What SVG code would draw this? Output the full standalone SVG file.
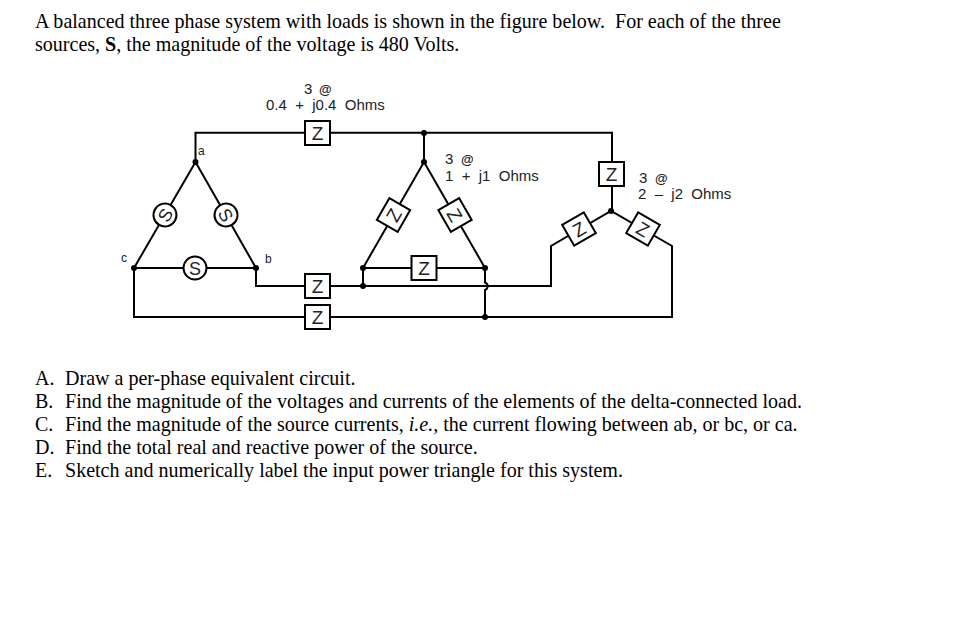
<svg xmlns="http://www.w3.org/2000/svg" width="966" height="642" viewBox="0 0 966 642">
<style>
.t{font-family:"Liberation Serif",serif;font-size:20.05px;fill:#000;white-space:pre}
.d{font-family:"Liberation Sans",sans-serif;font-size:15px;fill:#222;white-space:pre}
.at{font-family:"Liberation Sans",sans-serif;font-size:13px;font-weight:bold;fill:#222}
.l{font-family:"Liberation Sans",sans-serif;font-size:12px;fill:#222}
.z{font-family:"Liberation Sans",sans-serif;font-size:19px;fill:#222;text-anchor:middle}
.w{fill:none;stroke:#000;stroke-width:2}
.b{fill:#fff;stroke:#000;stroke-width:2}
</style>
<defs>
<g id="zb"><rect class="b" x="-12.5" y="-12" width="25" height="24"/><text class="z" y="7">Z</text></g>
<g id="sc"><circle class="b" r="11.5"/><text class="z" y="6.500" style="font-size:18px">S</text></g>
</defs>
<rect width="966" height="642" fill="#fff"/>
<g id="text">
<text class="t" x="35" y="28">A balanced three phase system with loads is shown in the figure below.  For each of the three</text>
<text class="t" x="35" y="51">sources, <tspan font-weight="bold">S</tspan>, the magnitude of the voltage is 480 Volts.</text>
<text class="t" y="385"><tspan x="35">A.</tspan><tspan x="65">Draw a per-phase equivalent circuit.</tspan></text>
<text class="t" y="408"><tspan x="35">B.</tspan><tspan x="65">Find the magnitude of the voltages and currents of the elements of the delta-connected load.</tspan></text>
<text class="t" y="431"><tspan x="35">C.</tspan><tspan x="65">Find the magnitude of the source currents, <tspan font-style="italic">i.e.</tspan>, the current flowing between ab, or bc, or ca.</tspan></text>
<text class="t" y="454"><tspan x="35">D.</tspan><tspan x="65">Find the total real and reactive power of the source.</tspan></text>
<text class="t" y="477"><tspan x="35">E.</tspan><tspan x="65">Sketch and numerically label the input power triangle for this system.</tspan></text>
</g>
<g id="connectors">
<path class="w" d="M195.500 162V132.700H612V211"/>
<path class="w" d="M195.500 162L134 268H256L195.500 162"/>
<path class="w" d="M256 268V286H551V246L611 211L672 246V317H134V268"/>
<path class="w" d="M424 133V162L363 268H485L424 162"/>
<path class="w" d="M363 268V286"/>
<path class="w" d="M485 268V282.500A4 4 0 0 1 485 290V317"/>
<g fill="#000">
<circle cx="195.500" cy="162" r="3"/><circle cx="134" cy="268" r="3"/><circle cx="256" cy="268" r="3"/>
<circle cx="424" cy="133" r="3"/><circle cx="424" cy="162" r="3"/><circle cx="363" cy="268" r="3"/><circle cx="485" cy="268" r="3"/>
<circle cx="363" cy="286" r="3"/><circle cx="485" cy="317" r="3"/><circle cx="611" cy="211" r="3"/>
</g>
</g>
<g id="src-ca"><use href="#sc" transform="translate(165 215) rotate(-60)"/></g>
<g id="src-ab"><use href="#sc" transform="translate(226 215) rotate(60)"/></g>
<g id="src-bc"><use href="#sc" transform="translate(195 268)"/></g>
<g id="z-line-a"><use href="#zb" transform="translate(317.500 133)"/></g>
<g id="z-line-b"><use href="#zb" transform="translate(317.500 286)"/></g>
<g id="z-line-c"><use href="#zb" transform="translate(317.500 317)"/></g>
<g id="z-delta-l"><use href="#zb" transform="translate(393.500 215) rotate(-60)"/></g>
<g id="z-delta-r"><use href="#zb" transform="translate(455 215) rotate(60)"/></g>
<g id="z-delta-b"><use href="#zb" transform="translate(424 268)"/></g>
<g id="z-wye-t"><use href="#zb" transform="translate(611.500 174)"/></g>
<g id="z-wye-l"><use href="#zb" transform="translate(579 229) rotate(-30)"/></g>
<g id="z-wye-r"><use href="#zb" transform="translate(643 229) rotate(30)"/></g>
<g id="labels">
<text class="d" x="304" y="94">3</text><text class="at" x="319" y="94">@</text>
<text class="d" x="266" y="110">0.4  +  j0.4  Ohms</text>
<text class="d" x="445" y="164">3</text><text class="at" x="461" y="164">@</text>
<text class="d" x="445" y="181">1  +  j1  Ohms</text>
<text class="d" x="639" y="183">3</text><text class="at" x="655" y="183">@</text>
<text class="d" x="638" y="199">2  –  j2  Ohms</text>
<text class="l" x="198" y="155">a</text>
<text class="l" x="265" y="263">b</text>
<text class="l" x="121" y="262">c</text>
</g>
</svg>
